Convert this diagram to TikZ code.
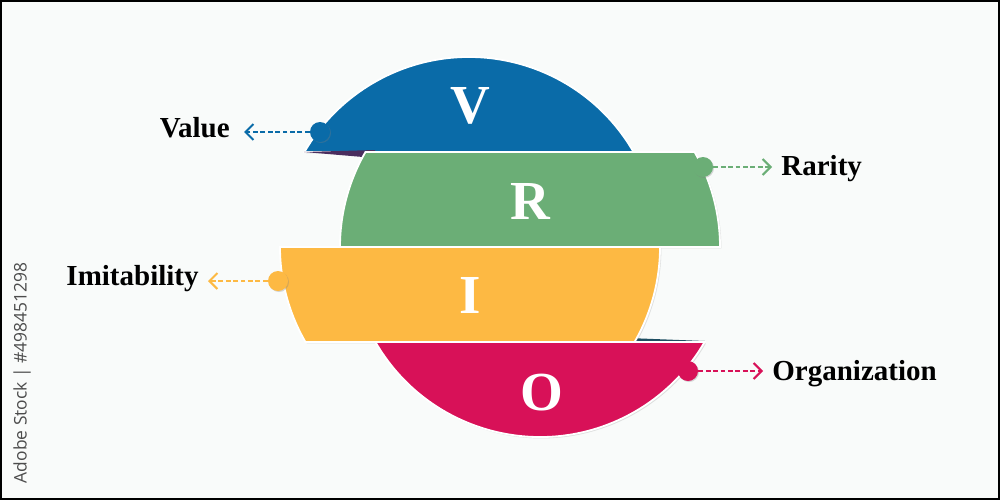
\documentclass[tikz,border=0pt]{standalone}
\usepackage{fontspec}
\setmainfont{Liberation Serif}
\newfontfamily\wmfont{Open Sans}
\usetikzlibrary{arrows.meta,shadows}
\definecolor{cV}{HTML}{0A6BA8}
\definecolor{cR}{HTML}{6BAE76}
\definecolor{cI}{HTML}{FDB943}
\definecolor{cO}{HTML}{D81158}
\definecolor{cBg}{HTML}{F9FBFA}
\definecolor{cPurp}{HTML}{4A2D5E}
\definecolor{cTeal}{HTML}{1E4E62}
\begin{document}
\begin{tikzpicture}[x=0.5pt,y=0.5pt,
  band/.style={draw=white,line width=0.9pt,drop shadow={shadow xshift=0.7pt,shadow yshift=-0.7pt,opacity=0.22}},
  letter/.style={text=white,font=\bfseries\fontsize{27.5}{27.5}\selectfont},
  dot/.style={circle,inner sep=0pt,minimum size=10pt,drop shadow={shadow xshift=0.5pt,shadow yshift=-0.5pt,opacity=0.3}},
  lab/.style={font=\bfseries\fontsize{14.5}{14.5}\selectfont,inner xsep=4.5pt,inner ysep=0pt,text=black},
  conn/.style={dash pattern=on 2.4pt off 1.3pt,line width=1pt,-{Straight Barb[length=4pt,width=8pt,line width=1pt]}}]
\fill[cBg] (0,0) rectangle (1000,500);
\useasboundingbox (0,0) rectangle (1000,500);
% V band
\path[band,fill=cV] (633.545,348) arc[start angle=30,end angle=150,radius=190] -- cycle;
\fill[cPurp] (304,348) -- (375,350) -- (375,342) -- cycle;
% R band
\path[band,fill=cR] (365.455,348) arc[start angle=150,end angle=180,radius=190] -- (720,253) arc[start angle=0,end angle=30,radius=190] -- cycle;
% teal sliver
\fill[cTeal] (628,162) -- (705,159) -- (628,156) -- cycle;
% I band
\path[band,fill=cI] (660,253) -- (280,253) arc[start angle=180,end angle=210,radius=190] -- (634.545,158) arc[start angle=330,end angle=360,radius=190] -- cycle;
% O band
\path[band,fill=cO] (375.455,158) arc[start angle=210,end angle=330,radius=190] -- cycle;
% letters
\node[letter] (lV) at (470,394) {V};
\node[letter] (lR) at (530,299) {R};
\node[letter] (lI) at (470,205) {I};
\node[letter] (lO) at (542,107) {O};
% dots
\node[dot,fill=cV] (dV) at (320,368) {};
\node[dot,fill=cR] (dR) at (703,333) {};
\node[dot,fill=cI] (dI) at (278,219) {};
\node[dot,fill=cO] (dO) at (688,129) {};
% labels
\node[lab,inner xsep=7pt,anchor=base east] (tV) at (244,363) {Value};
\node[lab,anchor=base west] (tR) at (772,325) {Rarity};
\node[lab,anchor=base east] (tI) at (208,215) {Imitability};
\node[lab,anchor=base west] (tO) at (763,120) {Organization};
% connectors
\draw[conn,cV] (dV) -- (dV -| tV.east);
\draw[conn,cR] (dR) -- (dR -| tR.west);
\draw[conn,cI] (dI) -- (dI -| tI.east);
\draw[conn,cO] (dO) -- (dO -| tO.west);
% side text
\node[rotate=90,text=black!70,font=\wmfont\fontsize{8.7}{8.7}\selectfont] (wm) at (22,127) {Adobe Stock | \#498451298};
% frame
\draw[black,line width=1.2pt] (1.2,1.2) rectangle (998.8,498.8);
\end{tikzpicture}
\end{document}
